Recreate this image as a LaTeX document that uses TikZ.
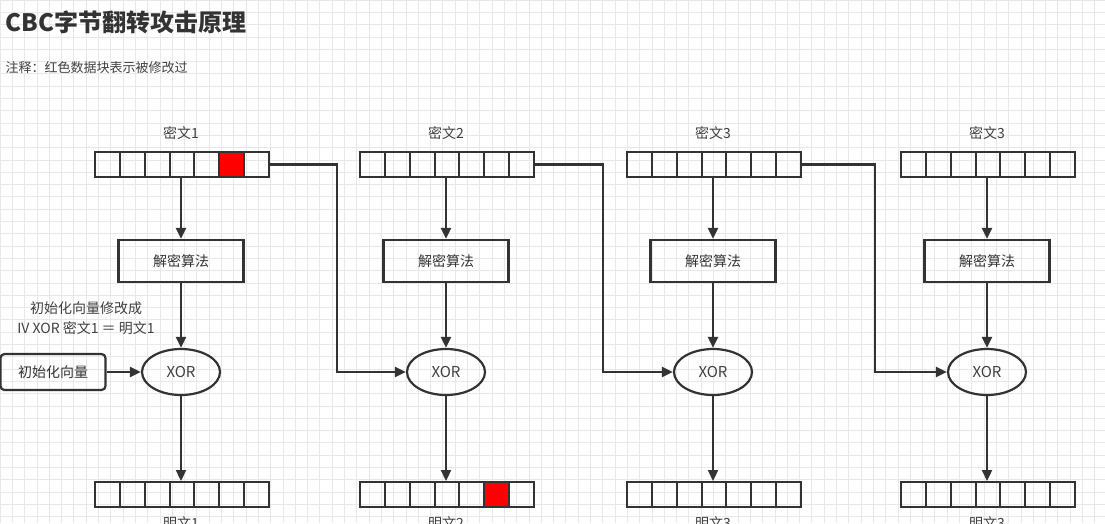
\documentclass[tikz,border=0pt]{standalone}
\usepackage{fontspec}
\setmainfont{Noto Sans CJK SC}
\usetikzlibrary{shapes.geometric,arrows.meta}
\begin{document}
\begin{tikzpicture}[x=1pt,y=-1pt,
  ln/.style={draw=black!80,line width=2.2pt},
  arr/.style={ln,-{Triangle[length=11pt,width=10pt]}},
  cell/.style={draw=black!80,line width=2pt,minimum width=24.86pt,minimum height=25pt,inner sep=0pt,anchor=north west},
  lab/.style={font=\fontsize{14}{16}\selectfont,text=black!75},
  dec/.style={draw=black!80,line width=2.2pt,minimum width=125pt,minimum height=42pt,font=\fontsize{14}{16}\selectfont,text=black!80},
  xor/.style={ellipse,draw=black!80,line width=2.2pt,minimum width=78pt,minimum height=46pt,font=\fontsize{15}{17}\selectfont,text=black!75}]
\useasboundingbox (0,0) rectangle (1105,523);
\fill[white] (0,0) rectangle (1105,523);
\foreach \i in {0,...,90}{\draw[black!9,line width=0.8pt] (\i*12.3,0) -- (\i*12.3,523);}
\foreach \i in {0,...,43}{\draw[black!9,line width=0.8pt] (0,\i*12.3) -- (1105,\i*12.3);}
\node[anchor=west,font=\bfseries\fontsize{24}{28}\selectfont,text=black!80] (title) at (2,22) {CBC字节翻转攻击原理};
\node[anchor=west,lab,font=\fontsize{13}{15}\selectfont] (note) at (2,68) {注释：红色数据块表示被修改过};
\foreach \k/\x in {1/94,2/359,3/626,4/900}{
  \foreach \j in {0,...,6}{
    \node[cell] (c\k-\j) at (\x+\j*24.86,151) {};
    \node[cell] (p\k-\j) at (\x+\j*24.86,481) {};
  }
}
\fill[red] ([shift={(2pt,-2pt)}]c1-5.north west) rectangle ([shift={(-2pt,2pt)}]c1-5.south east);
\fill[red] ([shift={(2pt,-2pt)}]p2-5.north west) rectangle ([shift={(-2pt,2pt)}]p2-5.south east);
\node[lab] (cl1) at (181,133) {密文1};
\node[lab] (cl2) at (446,133) {密文2};
\node[lab] (cl3) at (713,133) {密文3};
\node[lab] (cl4) at (987,133) {密文3};
\node[lab] (pl1) at (181,523) {明文1};
\node[lab] (pl2) at (446,523) {明文2};
\node[lab] (pl3) at (713,523) {明文3};
\node[lab] (pl4) at (987,523) {明文3};
\foreach \k/\x in {1/181,2/446,3/713,4/987}{
  \node[dec] (d\k) at (\x,261) {解密算法};
  \node[xor] (x\k) at (\x,372) {XOR};
  \draw[arr] (\x,176) -- (d\k.north);
  \draw[arr] (d\k.south) -- (x\k.north);
  \draw[arr] (x\k.south) -- (\x,481);
}
\draw[arr] (c1-6.east) -| (337,372) -- (x2.west);
\draw[arr] (c2-6.east) -| (603,372) -- (x3.west);
\draw[arr] (c3-6.east) -| (875,372) -- (x4.west);
\node[draw=black!80,line width=2.2pt,rounded corners=4pt,minimum width=105pt,minimum height=36pt,font=\fontsize{14}{16}\selectfont,text=black!80] (iv) at (53,372) {初始化向量};
\draw[arr] (iv.east) -- (x1.west);
\node[lab,align=center,font=\fontsize{14}{20}\selectfont] (ivl) at (86,318) {初始化向量修改成\\IV XOR 密文1 ＝ 明文1};
\end{tikzpicture}
\end{document}
